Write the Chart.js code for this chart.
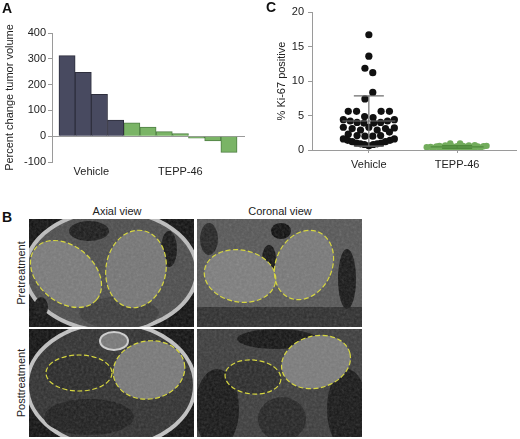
<!DOCTYPE html>
<html>
<head>
<meta charset="utf-8">
<script src="https://cdn.jsdelivr.net/npm/chart.js@4.4.1/dist/chart.umd.min.js"></script>
<style>
  body { margin: 0; background: #fff; font-family: "Liberation Sans", Arial, sans-serif; }
  #fig { position: relative; width: 520px; height: 439px; overflow: hidden; }
  canvas { position: absolute; }
  .letter { position: absolute; font-weight: bold; font-size: 14px; color: #111; }
  #panelB { position: absolute; left: 0; top: 195px; }
</style>
</head>
<body>
<div id="fig">
  <canvas id="chartA" width="250" height="190" style="left:0;top:0"></canvas>
  <canvas id="chartC" width="270" height="190" style="left:250px;top:0"></canvas>
  <div class="letter" style="left:2px;top:0">A</div>
  <div class="letter" style="left:266px;top:-1px">C</div>

  <!-- panel B: MRI tiles, sketched -->
  <svg id="panelB" width="520" height="244" xmlns="http://www.w3.org/2000/svg">
    <defs>
      <filter id="grain" x="0" y="0" width="100%" height="100%">
        <feTurbulence type="fractalNoise" baseFrequency="0.4" numOctaves="2" seed="4" result="n"/>
        <feColorMatrix type="saturate" values="0" in="n" result="g"/>
        <feComponentTransfer in="g" result="a"><feFuncA type="table" tableValues="0 0.22"/></feComponentTransfer>
        <feComposite in="a" in2="SourceGraphic" operator="in"/>
      </filter>
      <clipPath id="tile"><rect width="165" height="108"/></clipPath>
    </defs>
    <text x="2" y="27" font-size="14" font-weight="bold" fill="#111">B</text>
    <text x="117" y="20" font-size="11" text-anchor="middle" fill="#222">Axial view</text>
    <text x="280" y="20" font-size="11" text-anchor="middle" fill="#222">Coronal view</text>
    <text transform="translate(25,78) rotate(-90)" font-size="11" text-anchor="middle" fill="#222">Pretreatment</text>
    <text transform="translate(25,188) rotate(-90)" font-size="11" text-anchor="middle" fill="#222">Posttreatment</text>

    <!-- axial pre -->
    <g transform="translate(29,24)" clip-path="url(#tile)">
      <rect width="165" height="108" fill="#0e0e0e"/>
      <ellipse cx="82" cy="52" rx="86" ry="60" fill="#4a4a4a" stroke="#bdbdbd" stroke-width="4"/>
      <ellipse cx="90" cy="94" rx="40" ry="16" fill="#3a3a3a"/>
      <ellipse cx="60" cy="12" rx="20" ry="10" fill="#181818"/>
      <ellipse cx="140" cy="30" rx="8" ry="18" fill="#141414"/>
      <ellipse cx="12" cy="88" rx="7" ry="10" fill="#141414"/>
      <ellipse cx="90" cy="70" rx="6" ry="12" fill="#101010"/>
      <ellipse cx="37" cy="55" rx="40" ry="28" transform="rotate(40 37 55)" fill="#797979"/>
      <ellipse cx="107" cy="50" rx="30" ry="39" transform="rotate(10 107 50)" fill="#747474"/>
      <rect width="165" height="108" fill="#777" filter="url(#grain)"/>
      <ellipse cx="37" cy="55" rx="40" ry="28" transform="rotate(40 37 55)" fill="none" stroke="#d6d640" stroke-width="1.2" stroke-dasharray="5 2.5"/>
      <ellipse cx="107" cy="50" rx="30" ry="39" transform="rotate(10 107 50)" fill="none" stroke="#d6d640" stroke-width="1.2" stroke-dasharray="5 2.5"/>
    </g>
    <!-- coronal pre -->
    <g transform="translate(197,24)" clip-path="url(#tile)">
      <rect width="165" height="108" fill="#555"/>
      <rect x="0" y="88" width="165" height="20" fill="#2c2c2c"/>
      <ellipse cx="84" cy="12" rx="10" ry="8" fill="#0c0c0c"/>
      <ellipse cx="72" cy="40" rx="7" ry="14" fill="#111"/>
      <ellipse cx="150" cy="60" rx="9" ry="30" fill="#141414"/>
      <ellipse cx="12" cy="20" rx="9" ry="16" fill="#222"/>
      <ellipse cx="43" cy="57" rx="36" ry="26" transform="rotate(10 43 57)" fill="#7c7c7c"/>
      <ellipse cx="107" cy="46" rx="28" ry="36" transform="rotate(25 107 46)" fill="#777"/>
      <rect width="165" height="108" fill="#777" filter="url(#grain)"/>
      <ellipse cx="43" cy="57" rx="36" ry="26" transform="rotate(10 43 57)" fill="none" stroke="#d6d640" stroke-width="1.2" stroke-dasharray="5 2.5"/>
      <ellipse cx="107" cy="46" rx="28" ry="36" transform="rotate(25 107 46)" fill="none" stroke="#d6d640" stroke-width="1.2" stroke-dasharray="5 2.5"/>
    </g>
    <!-- axial post -->
    <g transform="translate(29,134)" clip-path="url(#tile)">
      <rect width="165" height="108" fill="#0e0e0e"/>
      <ellipse cx="82" cy="56" rx="84" ry="62" fill="#2e2e2e" stroke="#c2c2c2" stroke-width="4"/>
      <ellipse cx="60" cy="88" rx="45" ry="18" fill="#1c1c1c"/>
      <ellipse cx="85" cy="12" rx="14" ry="9" fill="#777" stroke="#d0d0d0" stroke-width="2"/>
      <ellipse cx="50" cy="44" rx="33" ry="18" fill="#262626"/>
      <ellipse cx="120" cy="41" rx="36" ry="29" transform="rotate(-10 120 41)" fill="#777"/>
      <rect width="165" height="108" fill="#777" filter="url(#grain)"/>
      <ellipse cx="50" cy="44" rx="33" ry="18" fill="none" stroke="#d6d640" stroke-width="1.2" stroke-dasharray="5 2.5"/>
      <ellipse cx="120" cy="41" rx="36" ry="29" transform="rotate(-10 120 41)" fill="none" stroke="#d6d640" stroke-width="1.2" stroke-dasharray="5 2.5"/>
    </g>
    <!-- coronal post -->
    <g transform="translate(197,134)" clip-path="url(#tile)">
      <rect width="165" height="108" fill="#3a3a3a"/>
      <ellipse cx="20" cy="80" rx="22" ry="40" fill="#141414"/>
      <ellipse cx="150" cy="80" rx="20" ry="40" fill="#141414"/>
      <ellipse cx="80" cy="10" rx="40" ry="10" fill="#111"/>
      <ellipse cx="85" cy="90" rx="24" ry="22" fill="#222"/>
      <ellipse cx="56" cy="48" rx="28" ry="17" transform="rotate(5 56 48)" fill="#282828"/>
      <ellipse cx="119" cy="33" rx="35" ry="26" transform="rotate(-15 119 33)" fill="#7a7a7a"/>
      <rect width="165" height="108" fill="#777" filter="url(#grain)"/>
      <ellipse cx="56" cy="48" rx="28" ry="17" transform="rotate(5 56 48)" fill="none" stroke="#d6d640" stroke-width="1.2" stroke-dasharray="5 2.5"/>
      <ellipse cx="119" cy="33" rx="35" ry="26" transform="rotate(-15 119 33)" fill="none" stroke="#d6d640" stroke-width="1.2" stroke-dasharray="5 2.5"/>
    </g>
  </svg>
</div>

<script>
// ---- data ----
// A: waterfall, percent change in tumour volume per mouse
const groups = ['Vehicle', 'TEPP-46'];
const vehicleChange = [312, 248, 162, 62];
const teppChange = [52, 35, 18, 10, -8, -18, -63];
const changeTicks = [-100, 0, 100, 200, 300, 400];

// C: % Ki-67 positive, one value per field; offsets are the beeswarm spread (px)
const vehicleKi67 = [16.7, 13.6, 11.85, 11.2, 8.35, 7.4,
  5.6, 5.6, 5.6, 5.6, 4.85, 4.7,
  4.4, 4.2, 4.0, 3.9, 3.9, 4.0, 4.2, 4.4,
  3.3, 3.1, 2.9, 3.3, 2.9, 3.1, 3.2,
  2.3, 2.1, 2.0, 2.0, 2.1, 2.6,
  1.6, 1.4, 1.2, 1.0, 0.9, 0.8, 0.6, 0.8, 0.9, 1.0, 1.2, 1.4, 1.6];
const vehicleSpread = [0, 0, -4, 4, 4, -4,
  -21, -12.5, 12.5, 21, -4.3, 4.3,
  -26, -19, -12, -5, 5, 12, 19, 26,
  -26, -17, -8.5, 0, 8.5, 17, 26,
  -21, -12, -4, 4, 12, 21,
  -26, -21.5, -17, -12.5, -8.5, -4.5, 0, 4.5, 8.5, 12.5, 17, 21.5, 26];
const teppKi67 = [0.45, 0.5, 0.45, 0.4, 0.45, 0.5, 0.45, 0.4, 0.5, 0.55,
  0.3, 0.25, 0.3, 0.3, 0.2, 0.3, 0.3, 0.25, 0.35,
  0.6, 0.65, 0.6, 0.55, 0.6, 0.65, 0.7,
  0.95, 0.95, 0.4, 0.6];
const teppSpread = [-27, -21, -15, -9, -3, 3, 9, 15, 21, 27,
  -24, -18, -12, -6, 0, 6, 12, 18, 24,
  -18, -12, -6, 0, 6, 12, 18,
  -7, 3, -31, 30];
const ki67Mean = [4.2, 0.45];
const ki67Sd = [3.65, 0.2];
const ki67Ticks = [0, 5, 10, 15, 20];

const FONT = { family: '"Liberation Sans", Arial, sans-serif', size: 11 };
const AXIS = '#9a9a9a';
Chart.defaults.font = FONT;
Chart.defaults.color = '#222';

// ---- A: waterfall ----
const barsVehicle = vehicleChange.map((v, i) => ({ x: i, y: v }));
const barsTepp = teppChange.map((v, i) => ({ x: vehicleChange.length + i, y: v }));
const groupCentres = [(vehicleChange.length - 1) / 2,
  vehicleChange.length + (teppChange.length - 1) / 2];

new Chart(document.getElementById('chartA'), {
  type: 'bar',
  data: {
    datasets: [
      { data: barsVehicle, backgroundColor: '#484a60', borderColor: '#2e2f3d', borderWidth: 1, grouped: false },
      { data: barsTepp, backgroundColor: '#7ab466', borderColor: '#4f7f44', borderWidth: 1, grouped: false }
    ]
  },
  options: {
    responsive: false, animation: false,
    layout: { padding: { top: 33, right: 5, left: 0, bottom: 0 } },
    datasets: { bar: { barPercentage: 1, categoryPercentage: 1 } },
    plugins: { legend: { display: false }, tooltip: { enabled: false } },
    scales: {
      x: {
        // offset:false, otherwise the bar defaults widen a linear axis
        type: 'linear', min: -0.93, max: 10.99, offset: false, bounds: 'data',
        grid: { display: false, drawTicks: false, offset: false }, border: { display: false },
        afterBuildTicks: s => { s.ticks = groupCentres.map(v => ({ value: v })); },
        afterFit: s => { s.height = 28; },
        ticks: { padding: 3, maxRotation: 0, callback: (v, i) => groups[i] }
      },
      y: {
        min: -100, max: 400,
        afterBuildTicks: s => { s.ticks = changeTicks.map(v => ({ value: v })); },
        afterFit: s => { s.width = 52; },
        grid: {
          color: c => c.tick && c.tick.value === 0 ? AXIS : 'transparent',
          tickColor: AXIS, tickLength: 4, lineWidth: 1
        },
        border: { display: true, color: AXIS },
        ticks: { padding: 2 },
        title: { display: true, text: 'Percent change tumor volume', padding: { top: 3, bottom: 0 } }
      }
    }
  }
});

// ---- C: Ki-67 dot plot ----
const PX_PER_GROUP = 90;
const dotsVehicle = vehicleKi67.map((v, i) => ({ x: vehicleSpread[i] / PX_PER_GROUP, y: v }));
const dotsTepp = teppKi67.map((v, i) => ({ x: 1 + teppSpread[i] / PX_PER_GROUP, y: v }));

// mean line with +/- SD whiskers, placed through the chart scales
const errorBars = {
  id: 'errorBars',
  afterDatasetsDraw(chart) {
    const { ctx, scales: { x, y } } = chart;
    const colours = ['#6e6e6e', '#4f8a3c'];
    ki67Mean.forEach((m, g) => {
      const cx = x.getPixelForValue(g);
      const half = x.getPixelForValue(g + 0.3) - cx;
      const cap = x.getPixelForValue(g + 0.17) - cx;
      const yTop = y.getPixelForValue(m + ki67Sd[g]);
      const yBot = y.getPixelForValue(Math.max(m - ki67Sd[g], 0));
      const yMid = y.getPixelForValue(m);
      ctx.save();
      ctx.strokeStyle = colours[g];
      ctx.lineWidth = 1.2;
      ctx.beginPath();
      ctx.moveTo(cx, yTop); ctx.lineTo(cx, yBot);
      ctx.moveTo(cx - cap, yTop); ctx.lineTo(cx + cap, yTop);
      ctx.moveTo(cx - cap, yBot); ctx.lineTo(cx + cap, yBot);
      ctx.moveTo(cx - half, yMid); ctx.lineTo(cx + half, yMid);
      ctx.stroke();
      ctx.restore();
    });
  }
};

new Chart(document.getElementById('chartC'), {
  type: 'scatter',
  data: {
    datasets: [
      { data: dotsVehicle, backgroundColor: '#111', borderWidth: 0, pointRadius: 3.6 },
      { data: dotsTepp, backgroundColor: '#72ac5c', borderWidth: 0, pointRadius: 3.2 }
    ]
  },
  options: {
    responsive: false, animation: false,
    layout: { padding: { top: 12, right: 0, left: 0, bottom: 0 } },
    plugins: { legend: { display: false }, tooltip: { enabled: false } },
    scales: {
      x: {
        type: 'linear', min: -0.644, max: 1.667,
        afterBuildTicks: s => { s.ticks = groups.map((g, i) => ({ value: i })); },
        afterFit: s => { s.height = 40; },
        grid: { drawOnChartArea: false, tickColor: AXIS, tickLength: 3 },
        border: { display: true, color: AXIS },
        ticks: { padding: 5, maxRotation: 0, callback: (v, i) => groups[i] }
      },
      y: {
        min: 0, max: 20,
        afterBuildTicks: s => { s.ticks = ki67Ticks.map(v => ({ value: v })); },
        afterFit: s => { s.width = 62; },
        grid: { drawOnChartArea: false, tickColor: AXIS, tickLength: 4 },
        border: { display: true, color: AXIS },
        ticks: { padding: 4 },
        title: { display: true, text: '% Ki-67 positive', padding: { top: 25, bottom: 0 } }
      }
    }
  },
  plugins: [errorBars]
});
</script>
</body>
</html>
